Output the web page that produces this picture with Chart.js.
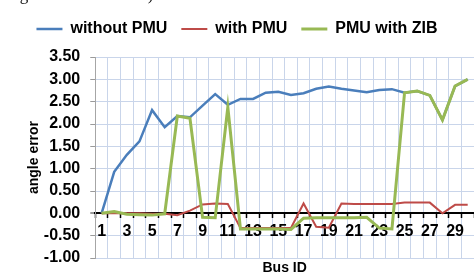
<!DOCTYPE html>
<html lang="en">

<head>
    <meta charset="UTF-8">
    <title>angle error by bus</title>
    <script src="https://cdn.jsdelivr.net/npm/chart.js"></script>
    <style>
        body {
            margin: 0;
            background: #fff;
            overflow: hidden;
        }

        #caption {
            position: absolute;
            left: -2px;
            top: -14px;
            font-family: "Liberation Serif", serif;
            font-size: 17px;
            line-height: 17px;
            color: #111;
            white-space: nowrap;
            z-index: 2;
        }

        canvas {
            position: absolute;
            left: 0;
            top: 0;
        }
    </style>
</head>

<body>
    <div id="caption">king ZIB into account) 30 bus.</div>
    <canvas id="chart" width="474" height="275"></canvas>

    <script>
        // bus numbers 1..30
        const busIds = ["1", "2", "3", "4", "5", "6", "7", "8", "9", "10",
            "11", "12", "13", "14", "15", "16", "17", "18", "19", "20",
            "21", "22", "23", "24", "25", "26", "27", "28", "29", "30"];

        const withoutPmu = [0.00, 0.93, 1.31, 1.61, 2.31, 1.93, 2.18, 2.15, 2.41, 2.67,
            2.43, 2.56, 2.56, 2.70, 2.72, 2.65, 2.69, 2.79, 2.84, 2.79,
            2.75, 2.71, 2.76, 2.78, 2.70, 2.74, 2.64, 2.09, 2.85, 3.00];

        const withPmu = [0.00, 0.00, 0.00, 0.00, -0.01, -0.01, -0.04, 0.06, 0.20, 0.22,
            0.21, -0.33, -0.33, -0.33, -0.33, -0.33, 0.22, -0.30, -0.32, 0.22,
            0.21, 0.21, 0.21, 0.21, 0.24, 0.24, 0.24, 0.00, 0.19, 0.19];

        const pmuWithZib = [0.00, 0.04, -0.02, -0.03, -0.04, -0.01, 2.18, 2.13, -0.09, -0.10,
            2.38, -0.35, -0.35, -0.35, -0.35, -0.36, -0.11, -0.10, -0.10, -0.10,
            -0.10, -0.09, -0.33, -0.35, 2.70, 2.74, 2.64, 2.09, 2.85, 3.00];

        const yTicks = [-1.0, -0.5, 0.0, 0.5, 1.0, 1.5, 2.0, 2.5, 3.0, 3.5];

        const gridColor = "#c9d5ea";
        const boldFont = { family: "'Liberation Sans', Arial, sans-serif", size: 16, weight: "bold" };

        // a bit more room under the legend
        const legendGap = {
            id: "legendGap",
            beforeInit(chart) {
                const fit = chart.legend.fit;
                chart.legend.fit = function () {
                    fit.bind(chart.legend)();
                    this.height += 10;
                };
            }
        };

        new Chart(document.getElementById("chart"), {
            type: "line",
            data: {
                labels: busIds,
                datasets: [{
                    label: "without PMU",
                    data: withoutPmu,
                    borderColor: "#4a7ebb",
                    backgroundColor: "#4a7ebb",
                    borderWidth: 2.5,
                    order: 2
                }, {
                    label: "with PMU",
                    data: withPmu,
                    borderColor: "#be4b48",
                    backgroundColor: "#be4b48",
                    borderWidth: 2,
                    order: 1
                }, {
                    label: "PMU with ZIB",
                    data: pmuWithZib,
                    borderColor: "#98b954",
                    backgroundColor: "#98b954",
                    borderWidth: 3,
                    order: 0
                }]
            },
            options: {
                responsive: false,
                animation: false,
                elements: {
                    point: { radius: 0 },
                    line: { tension: 0 }
                },
                layout: {
                    padding: { top: 7, left: 0, right: 0, bottom: 0 }
                },
                plugins: {
                    tooltip: { enabled: false },
                    legend: {
                        position: "top",
                        labels: {
                            usePointStyle: true,
                            pointStyle: "line",
                            pointStyleWidth: 26,
                            padding: 14,
                            color: "#000",
                            font: boldFont,
                            sort: (a, b) => a.datasetIndex - b.datasetIndex
                        }
                    },
                    title: {
                        display: true,
                        text: "Bus ID",
                        position: "bottom",
                        fullSize: false,
                        color: "#000",
                        font: { family: "'Liberation Sans', Arial, sans-serif", size: 14, weight: "bold", lineHeight: 1 },
                        padding: { top: 3, bottom: 0 }
                    }
                },
                scales: {
                    x: {
                        position: { y: 0 },
                        offset: true,
                        grid: {
                            offset: true,
                            color: gridColor,
                            tickColor: "#000",
                            tickLength: 4,
                            tickWidth: 1.5
                        },
                        border: { color: "#000", width: 2 },
                        ticks: {
                            autoSkip: false,
                            maxRotation: 0,
                            padding: 5,
                            color: "#000",
                            font: boldFont,
                            callback: function (value, index) {
                                return index % 2 === 0 ? busIds[index] : "";
                            }
                        }
                    },
                    y: {
                        min: yTicks[0],
                        max: yTicks[yTicks.length - 1],
                        afterBuildTicks: axis => {
                            axis.ticks = yTicks.map(v => ({ value: v }));
                        },
                        // labels only need half their height below the axis
                        afterFit: axis => {
                            axis.paddingBottom = 10;
                        },
                        grid: {
                            color: ctx => ctx.tick && ctx.tick.value === 0 ? "#000" : gridColor,
                            lineWidth: ctx => ctx.tick && ctx.tick.value === 0 ? 2 : 1,
                            tickColor: "#9a9a9a",
                            tickLength: 5
                        },
                        border: { color: "#a6a6a6", width: 1 },
                        ticks: {
                            padding: 10,
                            color: "#000",
                            font: boldFont,
                            callback: v => Number(v).toFixed(2)
                        },
                        title: {
                            display: true,
                            text: "angle error",
                            color: "#000",
                            font: { family: "'Liberation Sans', Arial, sans-serif", size: 14, weight: "bold" },
                            padding: { top: 26, bottom: -9 }
                        }
                    }
                }
            },
            plugins: [legendGap]
        });
    </script>
</body>

</html>
